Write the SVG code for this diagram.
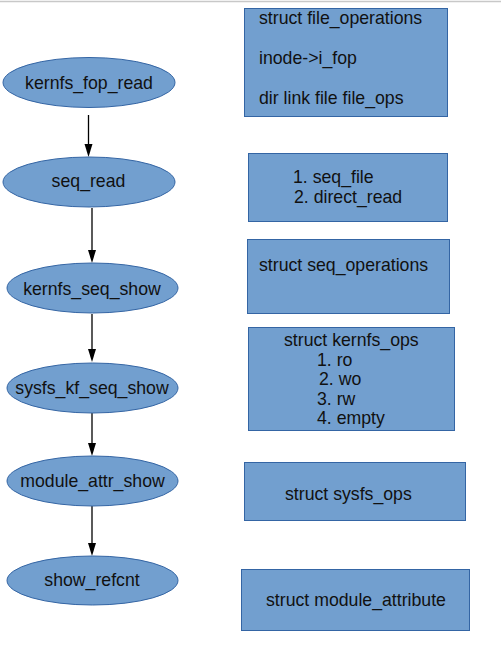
<svg xmlns="http://www.w3.org/2000/svg" width="501" height="657" viewBox="0 0 501 657">
<defs>
<style>
.n{fill:#729fcf;stroke:#3465a4;stroke-width:1}
.t{font-family:"Liberation Sans",Arial,sans-serif;font-size:17.7px;fill:#111}
.c{text-anchor:middle}
.e{stroke:#000;stroke-width:1.3;fill:none}
</style>
<marker id="ah" markerWidth="8" markerHeight="13" refX="4" refY="13" orient="auto-start-reverse" markerUnits="userSpaceOnUse" viewBox="0 0 8 13">
<path d="M0,0 L8,0 L4,13 Z" fill="#000"/>
</marker>
</defs>
<rect width="501" height="657" fill="#fff"/>
<line x1="0" y1="1.5" x2="501" y2="1.5" stroke="#c8c8c8" stroke-width="1.5"/>
<g id="connectors">
<line class="e" x1="88.5" y1="115" x2="88.5" y2="144" stroke="#444"/>
<path d="M84.5,144 L92.5,144 L88.5,157 Z" fill="#000"/>
<line class="e" x1="92" y1="208" x2="92" y2="250"/>
<path d="M88,250 L96,250 L92,263 Z" fill="#000"/>
<line class="e" x1="92" y1="314" x2="92" y2="349"/>
<path d="M88,349 L96,349 L92,362 Z" fill="#000"/>
<line class="e" x1="92" y1="413" x2="92" y2="443"/>
<path d="M88,443 L96,443 L92,456 Z" fill="#000"/>
<line class="e" x1="92" y1="506" x2="92" y2="543"/>
<path d="M88,543 L96,543 L92,556 Z" fill="#000"/>
</g>
<g id="kernfs_fop_read"><ellipse class="n" cx="89" cy="82.5" rx="86" ry="25"/><text class="t c" x="89" y="89">kernfs_fop_read</text></g>
<g id="seq_read"><ellipse class="n" cx="89" cy="182" rx="86" ry="25"/><text class="t c" x="88.5" y="187">seq_read</text></g>
<g id="kernfs_seq_show"><ellipse class="n" cx="92.5" cy="288" rx="85.5" ry="25"/><text class="t c" x="92" y="295">kernfs_seq_show</text></g>
<g id="sysfs_kf_seq_show"><ellipse class="n" cx="92.5" cy="388" rx="85.5" ry="25"/><text class="t c" x="92" y="394">sysfs_kf_seq_show</text></g>
<g id="module_attr_show"><ellipse class="n" cx="92.5" cy="481" rx="85.5" ry="25"/><text class="t c" x="92.5" y="487">module_attr_show</text></g>
<g id="show_refcnt"><ellipse class="n" cx="92.5" cy="580.5" rx="85.5" ry="24.5"/><text class="t c" x="92" y="586">show_refcnt</text></g>
<g id="box_file_operations"><rect class="n" x="244.5" y="8.5" width="203" height="108"/>
<text class="t" x="259" y="24">struct file_operations</text>
<text class="t" x="259" y="64">inode-&gt;i_fop</text>
<text class="t" x="259" y="104">dir link file file_ops</text></g>
<g id="box_seq_file"><rect class="n" x="248.5" y="153.5" width="199" height="68"/>
<text class="t" x="293" y="183">1. seq_file</text>
<text class="t" x="294" y="203">2. direct_read</text></g>
<g id="box_seq_operations"><rect class="n" x="247.5" y="239.5" width="202" height="74"/>
<text class="t" x="259" y="271">struct seq_operations</text></g>
<g id="box_kernfs_ops"><rect class="n" x="248.5" y="327.5" width="206" height="103"/>
<text class="t" x="284" y="346">struct kernfs_ops</text>
<text class="t" x="317" y="366">1. ro</text>
<text class="t" x="319" y="385">2. wo</text>
<text class="t" x="317" y="405">3. rw</text>
<text class="t" x="317" y="424">4. empty</text></g>
<g id="box_sysfs_ops"><rect class="n" x="244.5" y="462.5" width="221" height="58"/>
<text class="t" x="285" y="500">struct sysfs_ops</text></g>
<g id="box_module_attribute"><rect class="n" x="241.5" y="569.5" width="228" height="61"/>
<text class="t" x="266" y="606">struct module_attribute</text></g>
</svg>
